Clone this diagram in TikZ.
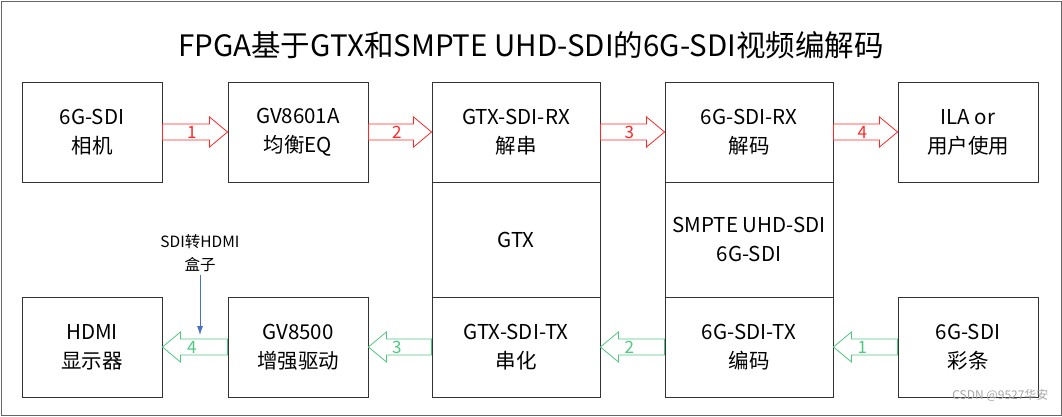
\documentclass[tikz,border=0pt]{standalone}
\usepackage{fontspec}
\setmainfont{Noto Sans CJK SC}
\usetikzlibrary{calc,arrows.meta}
\definecolor{ared}{RGB}{255,40,40}
\definecolor{agreen}{RGB}{80,200,130}
\definecolor{ablue}{RGB}{68,114,196}
\begin{document}
\begin{tikzpicture}[x=1pt,y=-1pt,
  box/.style={draw=black!80,line width=0.9pt,fill=white,inner sep=0pt,align=center,font=\fontsize{20.5}{29}\selectfont},
  redarr/.style={draw=ared,line width=0.8pt,fill=white},
  grnarr/.style={draw=agreen,line width=0.8pt,fill=white},
  num/.style={font=\fontsize{17}{17}\selectfont}]
\useasboundingbox (0,0) rectangle (1062,416);
\draw[black!60,line width=0.8pt] (1,1) rectangle (1061,415);
\node[font=\fontsize{29.5}{34}\selectfont] (title) at (531,45) {FPGA基于GTX和SMPTE UHD-SDI的6G-SDI视频编解码};
% top row
\node[box,minimum width=140,minimum height=100] (cam) at (92,132) {6G-SDI\\相机};
\node[box,minimum width=140,minimum height=100] (eq) at (298,132) {GV8601A\\均衡EQ};
\node[box,minimum width=168,minimum height=100] (rx) at (516,132) {GTX-SDI-RX\\解串};
\node[box,minimum width=168,minimum height=100] (dec) at (749,132) {6G-SDI-RX\\解码};
\node[box,minimum width=140,minimum height=100] (ila) at (968,132) {ILA or\\用户使用};
% middle
\node[box,minimum width=168,minimum height=115] (gtx) at (516,239.5) {GTX};
\node[box,minimum width=168,minimum height=115] (smp) at (749,239.5) {SMPTE UHD-SDI\\6G-SDI};
% bottom row
\node[box,minimum width=140,minimum height=100] (hdmi) at (92,347) {HDMI\\显示器};
\node[box,minimum width=140,minimum height=100] (drv) at (298,347) {GV8500\\增强驱动};
\node[box,minimum width=168,minimum height=100] (tx) at (516,347) {GTX-SDI-TX\\串化};
\node[box,minimum width=168,minimum height=100] (enc) at (749,347) {6G-SDI-TX\\编码};
\node[box,minimum width=140,minimum height=100] (bar) at (968,347) {6G-SDI\\彩条};
% arrows
\newcommand\larr[3]{%
 \draw[grnarr] let \p1=(#1), \p2=(#2) in
  (\x1,\y1+8pt) -- (\x2+18pt,\y1+8pt) -- (\x2+18pt,\y1+15pt) -- (\x2,\y1) -- (\x2+18pt,\y1-15pt) -- (\x2+18pt,\y1-8pt) -- (\x1,\y1-8pt) -- cycle
  node[num,text=agreen] at ($(\p1)!0.55!(\p2)$) {#3};}
\newcommand\rarrn[3]{%
 \draw[redarr] let \p1=(#1), \p2=(#2) in
  (\x1,\y1+8pt) -- (\x2-18pt,\y1+8pt) -- (\x2-18pt,\y1+15pt) -- (\x2,\y1) -- (\x2-18pt,\y1-15pt) -- (\x2-18pt,\y1-8pt) -- (\x1,\y1-8pt) -- cycle
  node[num,text=ared] at ($(\p1)!0.45!(\p2)$) {#3};}
\rarrn{cam.east}{eq.west}{1}
\rarrn{eq.east}{rx.west}{2}
\rarrn{rx.east}{dec.west}{3}
\rarrn{dec.east}{ila.west}{4}
\larr{bar.west}{enc.east}{1}
\larr{enc.west}{tx.east}{2}
\larr{tx.west}{drv.east}{3}
\larr{drv.west}{hdmi.east}{4}
% label
\node[align=center,font=\fontsize{15.5}{23}\selectfont] (box) at (200,253) {SDI转HDMI\\盒子};
\coordinate (boxend) at (200,335);
\draw[ablue,line width=0.8pt,-{Latex[length=9pt,width=6pt]}] (box.south) -- (boxend);
\node[text=black!35,font=\fontsize{12}{12}\selectfont,anchor=south east] (wm) at (1052,405) {CSDN @9527华安};
\end{tikzpicture}
\end{document}
